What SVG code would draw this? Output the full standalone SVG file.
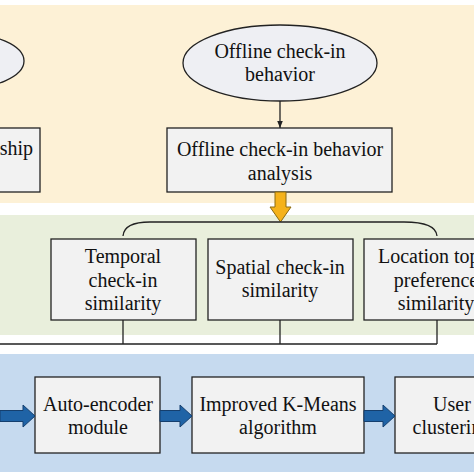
<svg xmlns="http://www.w3.org/2000/svg" width="474" height="474" viewBox="0 0 474 474">
<style>
.t{font-family:"Liberation Serif","Times New Roman",serif;font-size:20px;fill:#111;text-anchor:middle}
.b{fill:#f2f2f2;stroke:#222;stroke-width:1.3}
.e{fill:#eeeff3;stroke:#222;stroke-width:1.3}
.c{fill:none;stroke:#222;stroke-width:1.3}
.ba{fill:#1f63a6;stroke:#153f6e;stroke-width:1}
</style>
<defs>
<marker id="ah" viewBox="0 0 10 10" refX="10" refY="5" markerWidth="7" markerHeight="7" orient="auto" markerUnits="userSpaceOnUse">
<path d="M0,1 L10,5 L0,9 z" fill="#222"/>
</marker>
</defs>
<rect width="474" height="474" fill="#fff"/>
<rect x="0" y="5" width="474" height="198" fill="#fdf1d6"/>
<rect x="0" y="215" width="474" height="120" fill="#e9efdc"/>
<rect x="0" y="354" width="474" height="118" fill="#c6daef"/>

<g id="n-left-ellipse"><ellipse class="e" cx="-40" cy="61" rx="64" ry="28"/></g>
<g id="n-left-rect"><rect class="b" x="-100" y="128" width="140" height="64"/><text class="t" x="33" y="155" style="text-anchor:end">ship</text></g>
<g id="n-offline"><ellipse class="e" cx="280" cy="63" rx="97" ry="38"/><text class="t" x="280" y="58">Offline check-in</text><text class="t" x="280" y="81">behavior</text></g>
<g id="n-analysis"><rect class="b" x="167" y="128" width="225" height="64"/><text class="t" x="280" y="156">Offline check-in behavior</text><text class="t" x="280" y="180">analysis</text></g>
<g id="n-temporal"><rect class="b" x="51" y="239" width="145" height="81"/><text class="t" x="123" y="263">Temporal</text><text class="t" x="123" y="287">check-in</text><text class="t" x="123" y="310">similarity</text></g>
<g id="n-spatial"><rect class="b" x="208" y="239" width="145" height="81"/><text class="t" x="280" y="274">Spatial check-in</text><text class="t" x="280" y="297">similarity</text></g>
<g id="n-location"><rect class="b" x="364" y="239" width="145" height="81"/><text class="t" x="436" y="263">Location topic</text><text class="t" x="436" y="287">preference</text><text class="t" x="436" y="310">similarity</text></g>
<g id="n-autoenc"><rect class="b" x="35" y="377" width="125" height="76"/><text class="t" x="98" y="411">Auto-encoder</text><text class="t" x="98" y="434">module</text></g>
<g id="n-kmeans"><rect class="b" x="192" y="377" width="172" height="76"/><text class="t" x="278" y="411">Improved K-Means</text><text class="t" x="278" y="434">algorithm</text></g>
<g id="n-user"><rect class="b" x="395" y="377" width="115" height="76"/><text class="t" x="452" y="411">User</text><text class="t" x="452" y="434">clustering</text></g>

<g id="connectors">
<line class="c" x1="280" y1="101" x2="280" y2="128" marker-end="url(#ah)"/>
<path d="M275,192 H286 V207 H291 L280.5,222 L270,207 H275 Z" fill="#f5b21a" stroke="#8a6a10" stroke-width="1"/>
<path class="c" d="M123,236 Q124,222 150,222 H404 Q436,222 437,236"/>
<path class="c" d="M123,320 V344 M280,320 V344 M437,320 V344 M0,344 H437"/>
<path class="ba" d="M0,410.5 H23 V405 L35,416 L23,427 V421.5 H0 Z"/>
<path class="ba" d="M160,410.5 H180 V405 L192,416 L180,427 V421.5 H160 Z"/>
<path class="ba" d="M364,410.5 H383 V405 L395,416 L383,427 V421.5 H364 Z"/>
</g>
</svg>
